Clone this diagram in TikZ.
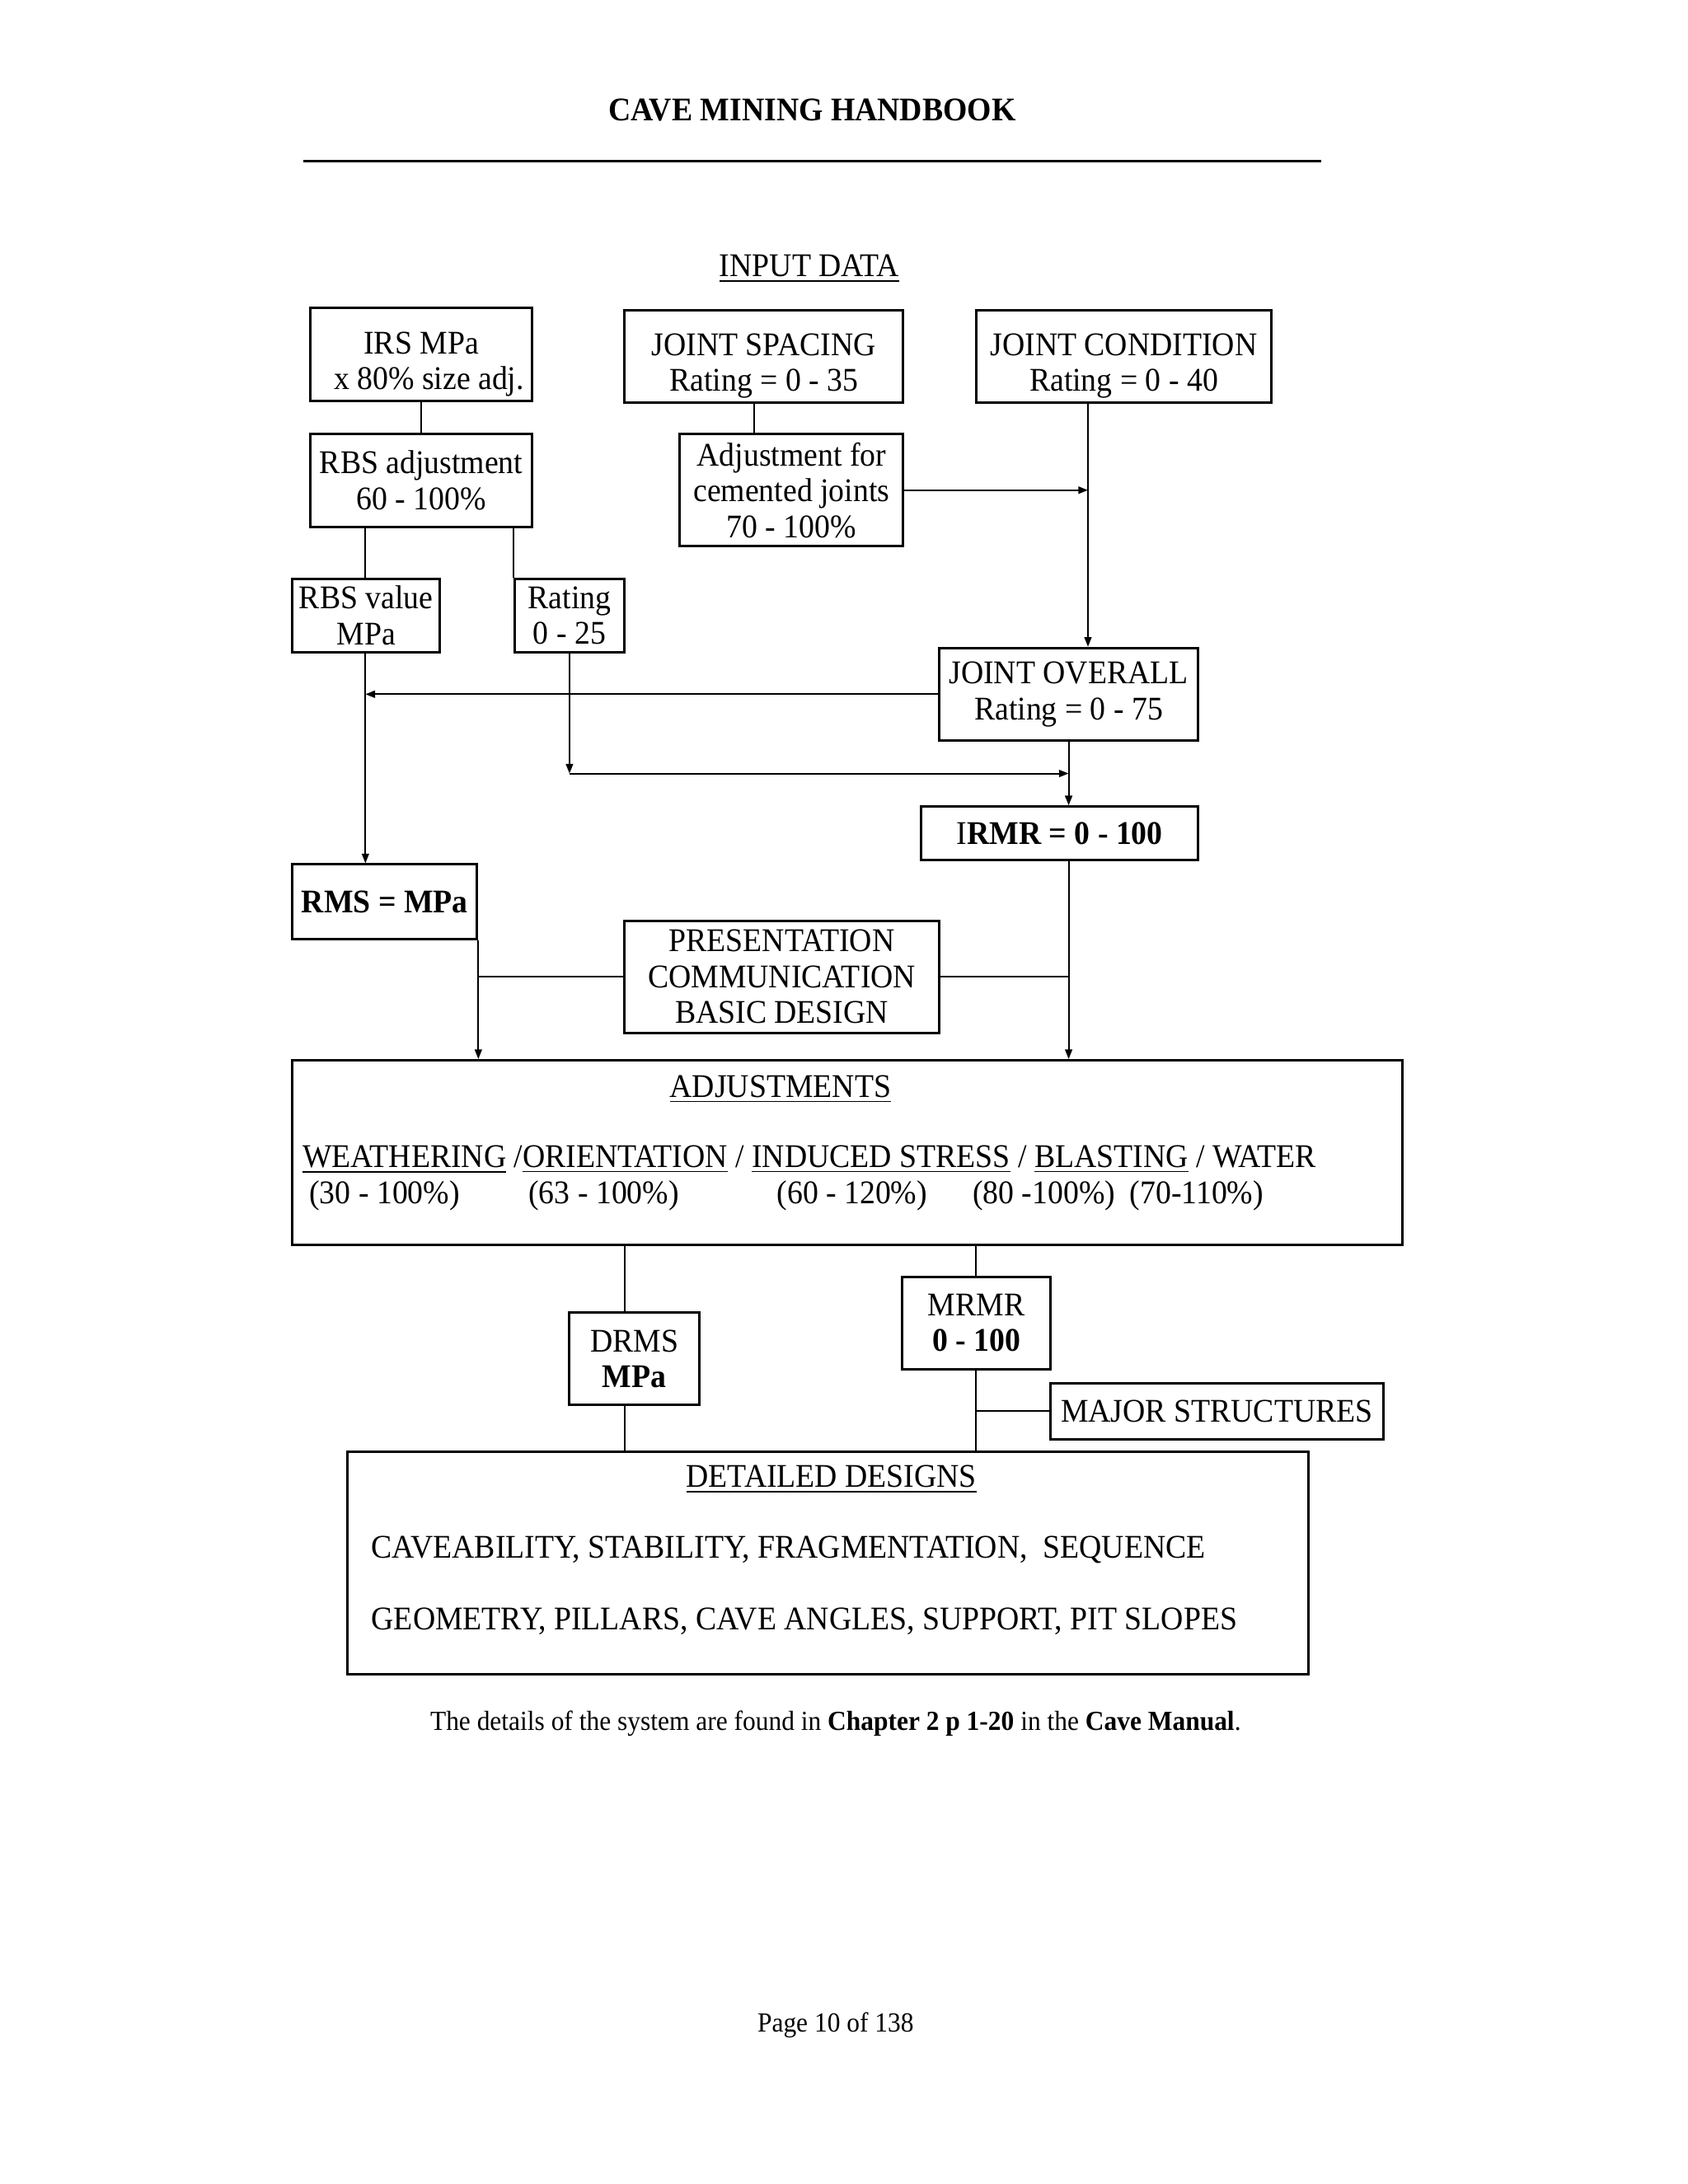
\documentclass[tikz,border=0pt]{standalone}
\usepackage{fontspec}
\setmainfont{Liberation Serif}[FakeStretch=0.94]
\usetikzlibrary{arrows.meta}
\newcommand{\lowstrut}{\rule{0pt}{15pt}}
\begin{document}
\begin{tikzpicture}[x=0.5pt, y=-0.5pt,
   box/.style={draw, line width=0.9pt, inner sep=0pt, align=center, font=\fontsize{12}{13}\selectfont},
   txt/.style={inner sep=0pt, font=\fontsize{12}{13}\selectfont},
   sz/.style 2 args={minimum width=#1*0.5pt, minimum height=#2*0.5pt},
   con/.style={line width=0.6pt},
   arr/.style={line width=0.6pt, -{Triangle[length=3.5pt,width=2.6pt]}}]
   \useasboundingbox (0,0) rectangle (1224,1584);
   % page head
   \node[txt, font=\fontsize{12}{13}\selectfont\bfseries] (head) at (589,80) {CAVE MINING HANDBOOK};
   \coordinate (rl) at (220,117);
   \coordinate (rr) at (958,117);
   \draw[line width=0.8pt] (rl) -- (rr);
   % input data
   \node[txt] (input) at (587,195) {\underline{INPUT DATA}};
   \node[box, sz={161}{68}] (irs) at (305.5,257) {\lowstrut IRS MPa\\ \ \ x 80\% size adj.};
   \node[box, sz={202}{67}] (jspace) at (554,258.5) {\lowstrut JOINT SPACING\\Rating = 0 - 35};
   \node[box, sz={214}{67}] (jcond) at (815,258.5) {\lowstrut JOINT CONDITION\\Rating = 0 - 40};
   \node[box, sz={161}{67}] (rbsadj) at (305.5,348.5) {RBS adjustment\\60 - 100\%};
   \node[box, sz={162}{81}] (cement) at (574,355.5) {Adjustment for\\cemented joints\\70 - 100\%};
   \node[box, sz={107}{53}] (rbsval) at (265.5,446.5) {RBS value\\MPa};
   \node[box, sz={80}{53}] (rating) at (413,446.5) {Rating\\0 - 25};
   \node[box, sz={188}{67}] (jover) at (775,503.5) {JOINT OVERALL\\Rating = 0 - 75};
   \node[box, sz={201}{39}] (irmr) at (768.5,604.5) {I\textbf{RMR = 0 - 100}};
   \node[box, sz={134}{54}] (rms) at (279,654) {\textbf{RMS = MPa}};
   \node[box, sz={228}{81}] (pres) at (567,708.5) {PRESENTATION\\COMMUNICATION\\BASIC DESIGN};
   % adjustments
   \node[box, sz={805}{134}] (adj) at (614.5,836) {};
   \node[txt] (adjt) at (566,790) {\underline{ADJUSTMENTS}};
   \node[txt, anchor=west] (adjl) at (219,841) {\underline{WEATHERING} /\underline{ORIENTATION} / \underline{INDUCED STRESS} / \underline{BLASTING} / WATER};
   \node[txt, anchor=west] (pw) at (224,867) {(30 - 100\%)};
   \node[txt, anchor=west] (po) at (383,867) {(63 - 100\%)};
   \node[txt, anchor=west] (ps) at (563,867) {(60 - 120\%)};
   \node[txt, anchor=west] (pb) at (705,867) {(80 -100\%)};
   \node[txt, anchor=west] (pwa) at (819,867) {(70-110\%)};
   \node[box, sz={94}{67}] (drms) at (460,985.5) {DRMS\\\textbf{MPa}};
   \node[box, sz={108}{67}] (mrmr) at (708,959.5) {MRMR\\\textbf{0 - 100}};
   \node[box, sz={241}{41}] (major) at (882.5,1023.5) {MAJOR STRUCTURES};
   % detailed designs
   \node[box, sz={697}{161}] (detail) at (600.5,1133.5) {};
   \node[txt] (dett) at (603,1073) {\underline{DETAILED DESIGNS}};
   \node[txt, anchor=west] (d1) at (269,1124) {CAVEABILITY, STABILITY, FRAGMENTATION,\ \ SEQUENCE};
   \node[txt, anchor=west] (d2) at (269,1176) {GEOMETRY, PILLARS, CAVE ANGLES, SUPPORT, PIT SLOPES};
   % foot
   \node[txt, font=\fontsize{10}{12}\selectfont] (note) at (606,1250) {The details of the system are found in \textbf{Chapter 2 p 1-20} in the \textbf{Cave Manual}.};
   \node[txt, font=\fontsize{10}{12}\selectfont] (page) at (606,1469) {Page 10 of 138};
   % line positions
   \coordinate (xa) at (265,0);
   \coordinate (xd) at (547,0);
   \coordinate (xe) at (789,0);
   \coordinate (xf) at (775,0);
   \coordinate (xh) at (453,0);
   \coordinate (jn) at (413,561);
   % connectors
   \draw[con] (irs) -- (rbsadj);
   \draw[con] (jspace.south -| xd) -- (cement.north -| xd);
   \draw[arr] (cement.east) -- (cement.east -| xe);
   \draw[arr] (jcond.south -| xe) -- (jover.north -| xe);
   \draw[con] (rbsadj.south -| xa) -- (rbsval.north -| xa);
   \draw[con] (rbsadj.south -| rating.west) -- (rating.north west);
   \draw[arr] (jover.west) -- (jover.west -| xa);
   \draw[arr] (rbsval.south -| xa) -- (rms.north -| xa);
   \draw[arr] (rating.south) -- (jn);
   \draw[arr] (jn) -- (jn -| xf);
   \draw[arr] (jover.south) -- (irmr.north -| jover.south);
   \draw[arr] (rms.south east) -- (adj.north -| rms.east);
   \draw[con] (pres.west -| rms.east) -- (pres.west);
   \draw[con] (pres.east) -- (pres.east -| xf);
   \draw[arr] (irmr.south -| xf) -- (adj.north -| xf);
   \draw[con] (adj.south -| xh) -- (drms.north -| xh);
   \draw[con] (drms.south -| xh) -- (detail.north -| xh);
   \draw[con] (adj.south -| mrmr) -- (mrmr.north);
   \draw[con] (mrmr.south) -- (detail.north -| mrmr);
   \draw[con] (major.west -| mrmr) -- (major.west);
\end{tikzpicture}
\end{document}
